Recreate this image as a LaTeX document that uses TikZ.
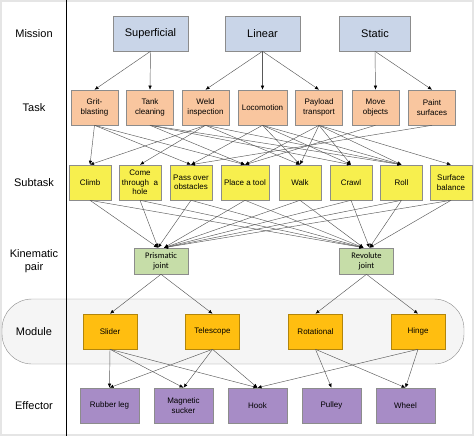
\documentclass[tikz,border=0pt]{standalone}
\usepackage{fontspec}
\setmainfont{Liberation Sans}
\newfontfamily\calfont{Carlito}
\usetikzlibrary{arrows.meta}

\definecolor{missionfill}{HTML}{C9D5E8}
\definecolor{taskfill}{HTML}{F9C69F}
\definecolor{subfill}{HTML}{F7EF4E}
\definecolor{pairfill}{HTML}{C6DDA8}
\definecolor{modfill}{HTML}{FFBE10}
\definecolor{efffill}{HTML}{A78CC6}
\definecolor{boxline}{HTML}{8C8C8C}

\tikzset{
  box/.style={draw=boxline, line width=0.6pt, align=center, inner sep=1pt,
    minimum height=35pt, font=\fontsize{8}{9.5}\selectfont},
  mission/.style={box, fill=missionfill, minimum width=75pt, font=\fontsize{11}{13}\selectfont},
  task/.style={box, fill=taskfill, minimum width=47pt},
  subtask/.style={box, fill=subfill, minimum width=42pt},
  pair/.style={box, fill=pairfill, minimum width=54pt, minimum height=26pt,
    font=\calfont\fontsize{8.5}{10}\selectfont},
  module/.style={box, fill=modfill, draw=modfill!70!black, minimum width=54pt},
  effector/.style={box, fill=efffill, minimum width=59pt},
  rowlabel/.style={align=center, font=\fontsize{11}{13}\selectfont},
  link/.style={draw=gray!70!black, line width=0.45pt,
    -{Latex[length=4pt,width=3.5pt,color=black]}}
}

\begin{document}
\begin{tikzpicture}[x=1pt, y=-1pt]
\useasboundingbox (0,0) rectangle (474,436);
\draw[gray!20, line width=2pt] (1,1) rectangle (473,435);

% Module band
\draw[boxline, fill=gray!8, rounded corners=30pt] (2,299) rectangle (464,364);
\draw[black, line width=1pt] (66,0) -- (66,436);

% Row labels
\node[rowlabel] (lmission) at (34,33.5) {Mission};
\node[rowlabel] (ltask) at (34,107.5) {Task};
\node[rowlabel] (lsub) at (34,182.5) {Subtask};
\node[rowlabel] (lpair) at (34,261) {Kinematic\\pair};
\node[rowlabel] (lmodule) at (34,331.5) {Module};
\node[rowlabel] (leffector) at (34,405.5) {Effector};

% Missions
\node[mission] (sup) at (150.5,33.5) {Superficial};
\node[mission] (lin) at (262.5,33.5) {Linear};
\node[mission, minimum width=71pt] (sta) at (375,33.5) {Static};

% Tasks
\node[task] (grit) at (94.5,107.5) {Grit-\\blasting};
\node[task] (tank) at (150,107.5) {Tank\\cleaning};
\node[task] (weld) at (205.5,107.5) {Weld\\inspection};
\node[task, minimum width=49pt] (loco) at (262.5,107.5) {Locomotion};
\node[task] (load) at (319,107.5) {Payload\\transport};
\node[task] (move) at (375.5,107.5) {Move\\objects};
\node[task] (paint) at (432,107.5) {Paint\\surfaces};

% Subtasks
\node[subtask] (climb) at (90,182.5) {Climb};
\node[subtask] (hole) at (140,182.5) {Come\\through\ \ a\\hole};
\node[subtask] (pass) at (191,182.5) {Pass over\\obstacles};
\node[subtask, minimum width=48pt] (tool) at (245,182.5) {Place a tool};
\node[subtask] (walk) at (300,182.5) {Walk};
\node[subtask] (crawl) at (351,182.5) {Crawl};
\node[subtask] (roll) at (401.5,182.5) {Roll};
\node[subtask] (bal) at (451,182.5) {Surface\\balance};

% Kinematic pairs
\node[pair] (pri) at (161,261) {Prismatic\\joint};
\node[pair] (rev) at (366.5,261) {Revolute\\joint};

% Modules
\node[module] (slider) at (110,331.5) {Slider};
\node[module] (tele) at (212.5,331.5) {Telescope};
\node[module] (rot) at (315.5,331.5) {Rotational};
\node[module] (hinge) at (418,331.5) {Hinge};

% Effectors
\node[effector] (rubber) at (109.5,405.5) {Rubber leg};
\node[effector] (magnet) at (183.5,405.5) {Magnetic\\sucker};
\node[effector] (hook) at (257.5,405.5) {Hook};
\node[effector] (pulley) at (331.5,405.5) {Pulley};
\node[effector] (wheel) at (405.5,405.5) {Wheel};

% Mission -> task
\foreach \a/\b in {sup/grit, sup/tank, lin/weld, lin/loco, lin/load, sta/move, sta/paint}
  \draw[link] (\a.south) -- (\b.north);

% Task -> subtask
\foreach \a/\b in {grit/climb, grit/pass, grit/tool,
    tank/tool, tank/crawl, tank/roll,
    weld/climb, weld/hole, weld/walk, weld/roll,
    loco/pass, loco/walk, loco/crawl, loco/roll,
    load/tool, load/walk, load/crawl, load/roll, load/bal,
    move/tool, paint/pass}
  \draw[link] (\a.south) -- (\b.north);

% Subtask -> kinematic pair
\foreach \a in {climb, hole, pass}
  \draw[link] (\a.south) -- ([xshift=-3pt]pri.north);
\foreach \a in {tool, walk, crawl, roll, bal}
  \draw[link] (\a.south) -- ([xshift=3pt]pri.north);
\foreach \a in {climb, hole, pass, tool, walk}
  \draw[link] (\a.south) -- ([xshift=-3pt]rev.north);
\foreach \a in {crawl, roll, bal}
  \draw[link] (\a.south) -- ([xshift=3pt]rev.north);

% Kinematic pair -> module
\foreach \a/\b in {pri/slider, pri/tele, rev/rot, rev/hinge}
  \draw[link] (\a.south) -- (\b.north);

% Module -> effector
\foreach \a/\b in {slider/rubber, slider/magnet, slider/hook,
    tele/rubber, tele/magnet, tele/hook,
    rot/pulley, rot/wheel, hinge/hook, hinge/wheel}
  \draw[link] (\a.south) -- (\b.north);
\end{tikzpicture}
\end{document}
